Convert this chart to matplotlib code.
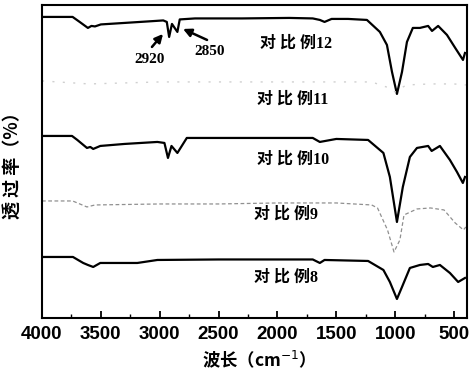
import numpy as np
import matplotlib
matplotlib.use("Agg")
import matplotlib.pyplot as plt

# ── DATA (transmittance, arbitrary offset units) ─────────────────────────────
wn_12 = [4000, 3740, 3680, 3610, 3580, 3550, 3500, 3300, 3100, 2970, 2940, 2920,
         2896, 2850, 2830, 2700, 2300, 1900, 1700, 1640, 1600, 1540, 1400, 1240,
         1130, 1070, 1027, 985, 942, 900, 850, 790, 720, 687, 635, 560, 490, 424, 407]
t_12 = [301, 301, 296, 290, 292, 291.5, 293.5, 295, 296.5, 297.5, 296, 281,
        294, 286, 298.5, 299.5, 299.5, 300, 299.5, 298, 296, 299, 299, 298,
        286, 273, 246, 224, 246, 276, 290, 290, 292, 287, 292, 283, 270, 258, 265]

wn_11 = [4000, 3600, 3000, 2000, 1200, 1050, 1000, 950, 900, 700, 500, 400]
t_11 = [237, 234, 236, 236, 236, 230, 226, 230, 233, 234, 234, 233]

wn_10 = [4000, 3745, 3700, 3618, 3590, 3565, 3505, 3300, 3020, 2960, 2930, 2900,
         2850, 2770, 2500, 2000, 1700, 1640, 1500, 1230, 1100, 1045, 985, 935,
         875, 815, 720, 690, 620, 535, 475, 425, 407]
t_10 = [182, 182, 178, 170, 171, 169, 172, 174, 176, 175, 160, 172,
        165, 180, 180, 180, 180, 176, 179, 178, 165, 141, 96, 131,
        161, 170, 172, 167, 172, 158, 146, 135, 141]

wn_9 = [4000, 3740, 3618, 3550, 3000, 2500, 2000, 1500, 1200, 1150, 1065, 1010,
        960, 925, 815, 700, 585, 490, 420, 400]
t_9 = [117, 117, 111, 113, 114, 114, 115, 115, 113, 110, 88, 66,
       78, 103, 109, 110, 108, 95, 88, 91]

wn_8 = [4000, 3737, 3650, 3610, 3565, 3505, 3190, 3020, 2500, 2000, 1700, 1640,
        1600, 1230, 1100, 1045, 985, 942, 875, 790, 720, 680, 620, 535, 465, 407]
t_8 = [61, 61, 55, 53, 51, 55, 55, 58, 58.5, 58.5, 58.5, 55,
       58, 57, 48, 36, 19, 31, 50, 53, 54, 51, 53, 45, 36, 40]

labels = ["对 比 例12", "对 比 例11", "对 比 例10", "对 比 例9", "对 比 例8"]
label_pos = [(2150, 274), (2170, 218), (2170, 158), (2200, 103), (2200, 40)]

peaks = ["2920", "2850"]
peak_text = [(3083, 258), (2573, 266)]
peak_tail = [(3066, 271), (2598, 278)]
peak_head = [(2972, 284), (2802, 289)]
# ─────────────────────────────────────────────────────────────────────────────

fig = plt.figure(figsize=(4.74, 3.79), dpi=100)
ax = fig.add_axes([0.0886, 0.161, 0.8966, 0.826])

ax.plot(wn_12, t_12, color="black", lw=1.6)
ax.plot(wn_11, t_11, color="#d0d0d0", lw=1.0, dashes=(1.5, 6))
ax.plot(wn_10, t_10, color="black", lw=1.6)
ax.plot(wn_9, t_9, color="#909090", lw=0.9, dashes=(3, 2))
ax.plot(wn_8, t_8, color="black", lw=1.6)

ax.set_xlim(4000, 390)
ax.set_ylim(0, 313)
ax.set_yticks([])
ax.set_xticks(np.arange(4000, 499, -500))
ax.set_xticks(np.arange(3750, 399, -250), minor=True)
ax.tick_params(axis="x", which="major", direction="in", length=5, width=1.3, pad=6)
ax.tick_params(axis="x", which="minor", direction="in", length=3, width=1.0)
for lab in ax.get_xticklabels():
    lab.set_fontfamily("Liberation Sans")
    lab.set_fontweight("bold")
    lab.set_fontsize(13.5)
for sp in ax.spines.values():
    sp.set_linewidth(1.5)

cjk = ["Liberation Serif", "Noto Sans CJK SC"]
for txt, (x, y) in zip(labels, label_pos):
    ax.text(x, y, txt, family=cjk, fontweight="bold", fontsize=11.5,
            ha="left", va="center")

for txt, tp, tail, head in zip(peaks, peak_text, peak_tail, peak_head):
    ax.text(tp[0], tp[1], txt, family="Liberation Serif", fontweight="bold",
            fontsize=11, ha="center", va="center")
    ax.annotate("", xy=head, xytext=tail,
                arrowprops=dict(arrowstyle="-|>", mutation_scale=12,
                                color="black", lw=1.8, shrinkA=0, shrinkB=0))

ax.set_xlabel("波长（cm$^{-1}$）", family=["Noto Sans CJK SC", "DejaVu Sans"],
              fontweight="bold", fontsize=12.5, labelpad=4)
ax.set_ylabel("透 过 率（%）", family=["Noto Sans CJK SC", "DejaVu Sans"],
              fontweight="bold", fontsize=13, labelpad=14)

fig.savefig("out.png", dpi=100)
